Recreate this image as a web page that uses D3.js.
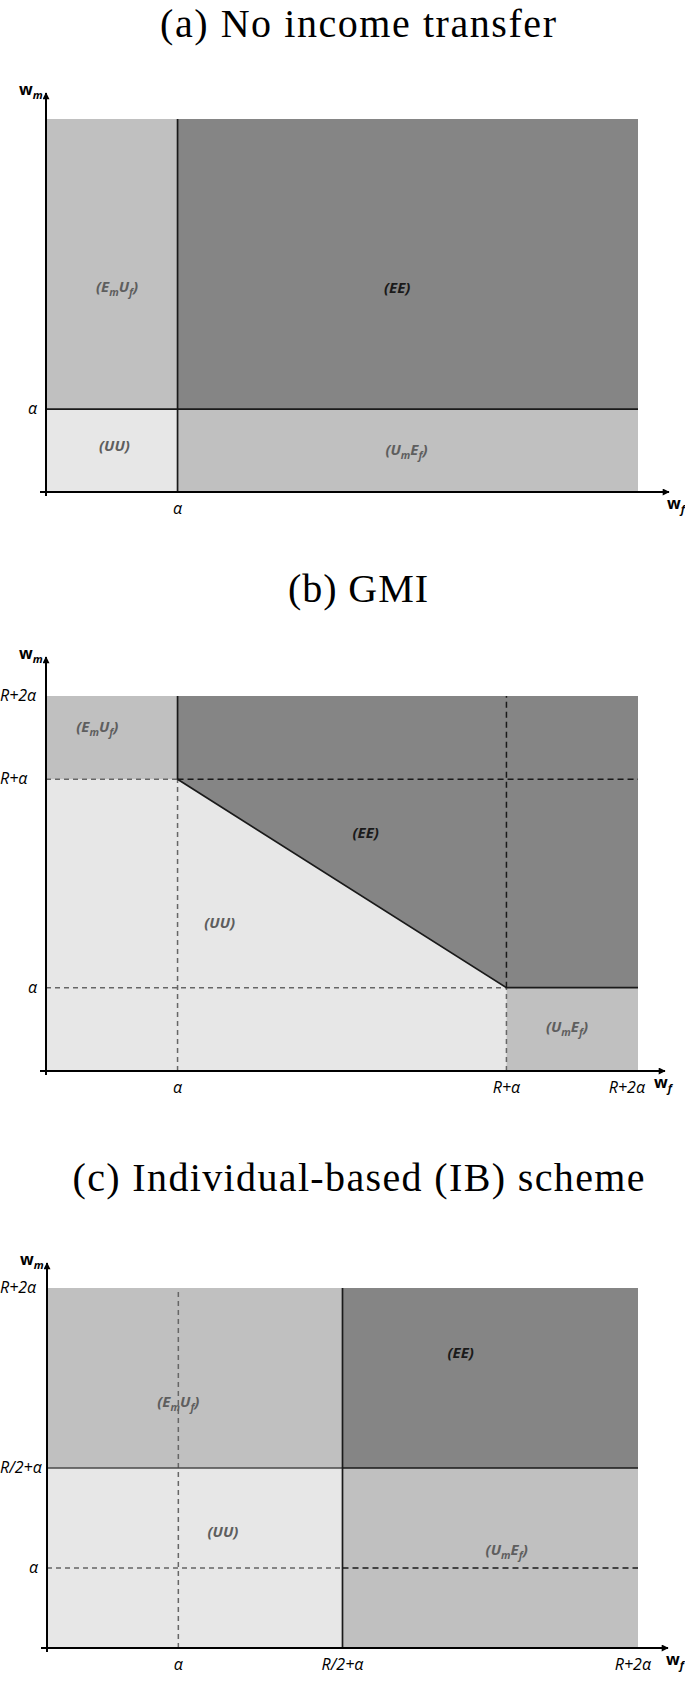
<!DOCTYPE html>
<html>
<head>
<meta charset="utf-8">
<script src="https://cdn.jsdelivr.net/npm/d3@7"></script>
<style>
body { margin: 0; background: #fff; }
svg { display: block; }
</style>
</head>
<body>
<div id="chart"></div>
<script>
var alpha = 1;
var R = 2.5;
var wMax = R + 2 * alpha;
var half = R / 2 + alpha;

var titles = ["(a) No income transfer", "(b) GMI", "(c) Individual-based (IB) scheme"];

var xTickValues = [[alpha], [alpha, R + alpha, R + 2 * alpha], [alpha, half, R + 2 * alpha]];
var xTickLabels = [["α"], ["α", "R+α", "R+2α"], ["α", "R/2+α", "R+2α"]];
var yTickValues = [[alpha], [alpha, R + alpha, R + 2 * alpha], [alpha, half, R + 2 * alpha]];
var yTickLabels = [["α"], ["α", "R+α", "R+2α"], ["α", "R/2+α", "R+2α"]];

// regime areas, corners given as (w_f, w_m)
var regionsA = [
    {regime: "UU", pts: [[0, 0], [alpha, 0], [alpha, alpha], [0, alpha]]},
    {regime: "EmUf", pts: [[0, alpha], [alpha, alpha], [alpha, wMax], [0, wMax]]},
    {regime: "UmEf", pts: [[alpha, 0], [wMax, 0], [wMax, alpha], [alpha, alpha]]},
    {regime: "EE", pts: [[alpha, alpha], [wMax, alpha], [wMax, wMax], [alpha, wMax]]}
];
var regionsB = [
    {regime: "UU", pts: [[0, 0], [R + alpha, 0], [R + alpha, alpha], [alpha, R + alpha], [0, R + alpha]]},
    {regime: "EmUf", pts: [[0, R + alpha], [alpha, R + alpha], [alpha, wMax], [0, wMax]]},
    {regime: "UmEf", pts: [[R + alpha, 0], [wMax, 0], [wMax, alpha], [R + alpha, alpha]]},
    {regime: "EE", pts: [[alpha, R + alpha], [R + alpha, alpha], [wMax, alpha], [wMax, wMax], [alpha, wMax]]}
];
var regionsC = [
    {regime: "UU", pts: [[0, 0], [half, 0], [half, half], [0, half]]},
    {regime: "EmUf", pts: [[0, half], [half, half], [half, wMax], [0, wMax]]},
    {regime: "UmEf", pts: [[half, 0], [wMax, 0], [wMax, half], [half, half]]},
    {regime: "EE", pts: [[half, half], [wMax, half], [wMax, wMax], [half, wMax]]}
];

// boundary lines
var linesA = [
    {kind: "solid", pts: [[alpha, 0], [alpha, wMax]]},
    {kind: "solid", pts: [[0, alpha], [wMax, alpha]]}
];
var linesB = [
    {kind: "dashGray", pts: [[0, R + alpha], [alpha, R + alpha]]},
    {kind: "dashGray", pts: [[alpha, 0], [alpha, R + alpha]]},
    {kind: "dashGray", pts: [[0, alpha], [R + alpha, alpha]]},
    {kind: "dashGray", pts: [[R + alpha, 0], [R + alpha, alpha]]},
    {kind: "dashDark", pts: [[alpha, R + alpha], [wMax, R + alpha]]},
    {kind: "dashDark", pts: [[R + alpha, alpha], [R + alpha, wMax]]},
    {kind: "solid", pts: [[alpha, R + alpha], [alpha, wMax]]},
    {kind: "solid", pts: [[alpha, R + alpha], [R + alpha, alpha], [wMax, alpha]]}
];
var linesC = [
    {kind: "dashGray", pts: [[alpha, 0], [alpha, wMax]]},
    {kind: "dashGray", pts: [[0, alpha], [half, alpha]]},
    {kind: "dashDark", pts: [[half, alpha], [wMax, alpha]]},
    {kind: "solidGray", pts: [[0, half], [half, half]]},
    {kind: "solid", pts: [[half, half], [wMax, half]]},
    {kind: "solid", pts: [[half, 0], [half, wMax]]}
];

// where the regime names sit, in (w_f, w_m)
var labelsA = [
    {regime: "EmUf", x: 0.54, y: 2.47}, {regime: "EE", x: 2.67, y: 2.46},
    {regime: "UU", x: 0.52, y: 0.55}, {regime: "UmEf", x: 2.74, y: 0.51}
];
var labelsB = [
    {regime: "EmUf", x: 0.39, y: 4.13}, {regime: "EE", x: 2.43, y: 2.86},
    {regime: "UU", x: 1.32, y: 1.78}, {regime: "UmEf", x: 3.96, y: 0.53}
];
var labelsC = [
    {regime: "EmUf", x: 1.0, y: 3.08}, {regime: "EE", x: 3.15, y: 3.69},
    {regime: "UU", x: 1.34, y: 1.45}, {regime: "UmEf", x: 3.5, y: 1.22}
];

var fills = {UU: "#e7e7e7", EmUf: "#c0c0c0", UmEf: "#c0c0c0", EE: "#858585"};
var labelParts = {
    UU: [["(UU)", 0]],
    EE: [["(EE)", 0]],
    EmUf: [["(E", 0], ["m", 1], ["U", 0], ["f", 1], [")", 0]],
    UmEf: [["(U", 0], ["m", 1], ["E", 0], ["f", 1], [")", 0]]
};
var lineStyle = {
    solid: {stroke: "#1a1a1a", dash: null, w: 1.7},
    solidGray: {stroke: "#4a4a4a", dash: null, w: 1.7},
    dashDark: {stroke: "#1a1a1a", dash: "6,4", w: 1.5},
    dashGray: {stroke: "#666", dash: "5,4", w: 1.5}
};

var width = 685;
var height = 1694;
var layout = [
    {left: 46, right: 638, top: 119, bottom: 492, titleY: 37, yTip: 93, xTip: 669, wfShift: -2, lastShift: 13},
    {left: 46, right: 638, top: 696, bottom: 1071, titleY: 602, yTip: 657, xTip: 665, wfShift: -11, lastShift: 7},
    {left: 47, right: 638, top: 1288, bottom: 1648, titleY: 1191, yTip: 1263, xTip: 668, wfShift: -2, lastShift: 13}
];
var titleWidths = [396, 140, 572];

var svg = d3.select("#chart").append("svg")
    .attr("width", width)
    .attr("height", height);

svg.append("rect").attr("width", width).attr("height", height).attr("fill", "#fff");

svg.append("defs").append("marker")
    .attr("id", "arrow")
    .attr("viewBox", "0 0 10 10")
    .attr("refX", 9)
    .attr("refY", 5)
    .attr("markerUnits", "userSpaceOnUse")
    .attr("markerWidth", 8)
    .attr("markerHeight", 7)
    .attr("orient", "auto")
    .append("path")
    .attr("d", "M0,0 L10,5 L0,10 z")
    .attr("fill", "#000");

// text made of parts, [string, 1 if subscript]
function addLabelText(sel, parts, small) {
    var prevSub = false;
    parts.forEach(function (p) {
        var ts = sel.append("tspan").text(p[0]);
        if (p[1]) {
            ts.attr("dy", 4).style("font-size", small + "px");
        } else if (prevSub) {
            ts.attr("dy", -4);
        }
        prevSub = p[1] === 1;
    });
}

function makePanel(k, regions, lines, labels) {
    var L = layout[k];
    var xScale = d3.scaleLinear().domain([0, wMax]).range([L.left, L.right]);
    var yScale = d3.scaleLinear().domain([0, wMax]).range([L.bottom, L.top]);
    var g = svg.append("g");

    g.append("text")
        .attr("x", (L.left + L.right) / 2 + 16)
        .attr("y", L.titleY)
        .attr("text-anchor", "middle")
        .attr("textLength", titleWidths[k])
        .attr("lengthAdjust", "spacing")
        .style("font-family", "'Liberation Serif', 'DejaVu Serif', serif")
        .style("font-size", "40px")
        .attr("fill", "#000")
        .text(titles[k]);

    var poly = d3.line().x(function (d) { return xScale(d[0]); }).y(function (d) { return yScale(d[1]); });

    g.selectAll(".area")
        .data(regions)
        .enter().append("path")
        .attr("d", function (d) { return poly(d.pts) + "Z"; })
        .attr("fill", function (d) { return fills[d.regime]; })
        .attr("stroke", "none");

    g.selectAll(".bound")
        .data(lines)
        .enter().append("path")
        .attr("d", function (d) { return poly(d.pts); })
        .attr("fill", "none")
        .attr("stroke", function (d) { return lineStyle[d.kind].stroke; })
        .attr("stroke-width", function (d) { return lineStyle[d.kind].w; })
        .attr("stroke-dasharray", function (d) { return lineStyle[d.kind].dash; });

    // axes with arrows
    g.append("line")
        .attr("x1", xScale(0)).attr("y1", yScale(0) + 4)
        .attr("x2", xScale(0)).attr("y2", L.yTip)
        .attr("stroke", "#000").attr("stroke-width", 2)
        .attr("marker-end", "url(#arrow)");
    g.append("line")
        .attr("x1", xScale(0) - 6).attr("y1", yScale(0))
        .attr("x2", L.xTip).attr("y2", yScale(0))
        .attr("stroke", "#000").attr("stroke-width", 2)
        .attr("marker-end", "url(#arrow)");

    var tickFont = "'Open Sans', 'DejaVu Sans', sans-serif";

    g.selectAll(".xt")
        .data(xTickValues[k])
        .enter().append("text")
        .attr("x", function (d) { return d === wMax ? xScale(d) + L.lastShift : xScale(d); })
        .attr("y", yScale(0) + 22)
        .attr("text-anchor", function (d) { return d === wMax ? "end" : "middle"; })
        .style("font-family", tickFont)
        .style("font-style", "italic")
        .style("font-size", "16px")
        .attr("fill", "#000")
        .text(function (d, i) { return xTickLabels[k][i]; });

    g.selectAll(".yt")
        .data(yTickValues[k])
        .enter().append("text")
        .attr("x", function (d, i) { return yTickLabels[k][i].length > 1 ? 0 : xScale(0) - 9; })
        .attr("y", function (d) { return yScale(d) + 5; })
        .attr("text-anchor", function (d, i) { return yTickLabels[k][i].length > 1 ? "start" : "end"; })
        .style("font-family", tickFont)
        .style("font-style", "italic")
        .style("font-size", "16px")
        .attr("fill", "#000")
        .text(function (d, i) { return yTickLabels[k][i]; });

    // w_m and w_f
    var wm = g.append("text")
        .attr("x", xScale(0) - 27)
        .attr("y", L.yTip + 2)
        .style("font-family", tickFont)
        .style("font-weight", "bold")
        .style("font-size", "16px")
        .attr("fill", "#000");
    addLabelText(wm, [["w", 0], ["m", 1]], 11);
    wm.selectAll("tspan").filter(function (d, i) { return i === 1; }).style("font-style", "italic");

    var wf = g.append("text")
        .attr("x", L.xTip + L.wfShift)
        .attr("y", yScale(0) + 17)
        .style("font-family", tickFont)
        .style("font-weight", "bold")
        .style("font-size", "16px")
        .attr("fill", "#000");
    addLabelText(wf, [["w", 0], ["f", 1]], 11);
    wf.selectAll("tspan").filter(function (d, i) { return i === 1; }).style("font-style", "italic");

    // regime names
    labels.forEach(function (d) {
        var t = g.append("text")
            .attr("x", xScale(d.x))
            .attr("y", yScale(d.y) + 5)
            .attr("text-anchor", "middle")
            .style("font-family", tickFont)
            .style("font-weight", "bold")
            .style("font-style", "italic")
            .style("font-size", "15px")
            .attr("fill", d.regime === "EE" ? "#1a1a1a" : "#5e5e5e");
        addLabelText(t, labelParts[d.regime], 10.5);
    });
}

makePanel(0, regionsA, linesA, labelsA);
makePanel(1, regionsB, linesB, labelsB);
makePanel(2, regionsC, linesC, labelsC);
</script>
</body>
</html>
